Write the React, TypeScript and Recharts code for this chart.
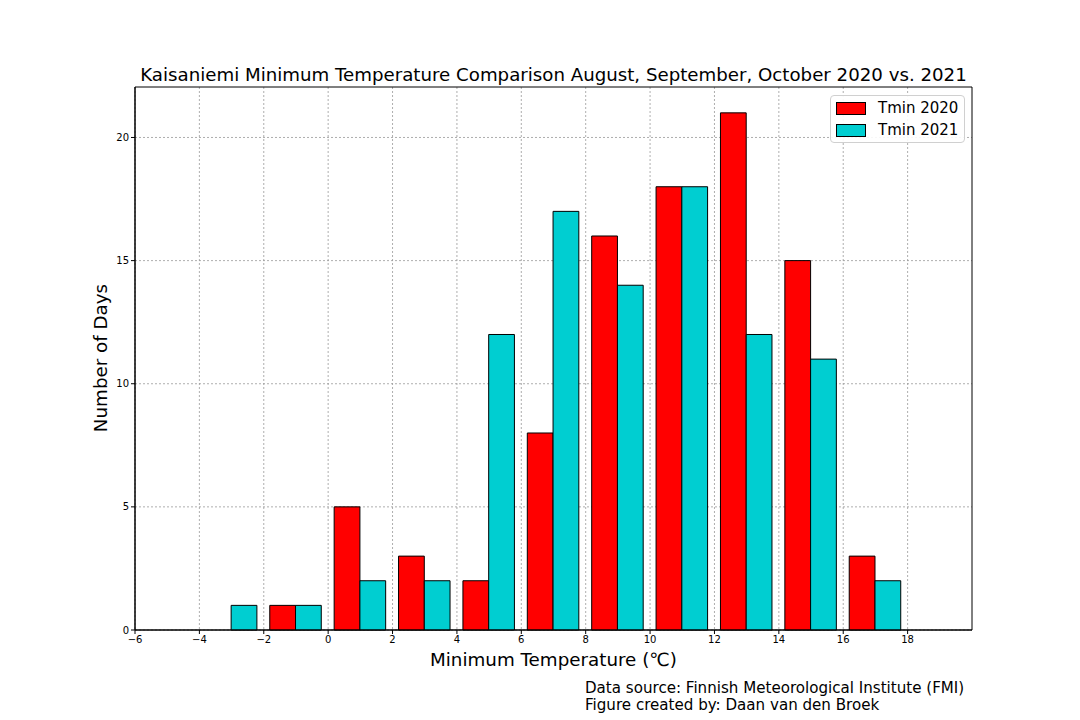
import { ComposedChart, Bar, XAxis, YAxis, CartesianGrid, ReferenceArea } from 'recharts'

// bin centres (2 °C bins) and counts
const binCenters = [-3, -1, 1, 3, 5, 7, 9, 11, 13, 15, 17]
const tmin2020 = [0, 1, 5, 3, 2, 8, 16, 18, 21, 15, 3]
const tmin2021 = [1, 1, 2, 2, 12, 17, 14, 18, 12, 11, 2]
const xTicks = [-6, -4, -2, 0, 2, 4, 6, 8, 10, 12, 14, 16, 18]
const yTicks = [0, 5, 10, 15, 20]

const RED = '#ff0000'
const CYAN = '#00ced1'
const FONT = '"DejaVu Sans", sans-serif'

const W = 1080
const H = 720
const PLOT_LEFT = 135
const PLOT_RIGHT = 972
const PLOT_TOP = 87
const X_MIN = -6
const X_MAX = 20
const Y_MAX = 22.05
const BAR_W = (0.8 * (PLOT_RIGHT - PLOT_LEFT)) / (X_MAX - X_MIN)

const data = binCenters.map((x, i) => ({ x, t2020: tmin2020[i], t2021: tmin2021[i] }))

function LegendBox() {
  const items = [
    { label: 'Tmin 2020', color: RED },
    { label: 'Tmin 2021', color: CYAN },
  ]
  return (
    <div
      style={{
        position: 'absolute',
        left: 830,
        top: 95,
        width: 135,
        height: 48,
        boxSizing: 'border-box',
        border: '1px solid #d0d0d0',
        borderRadius: 4,
        background: 'rgba(255,255,255,0.9)',
        padding: '1px 0 0 5px',
        fontFamily: FONT,
        fontSize: 15,
        whiteSpace: 'nowrap',
      }}
    >
      {items.map((it) => (
        <div key={it.label} style={{ display: 'flex', alignItems: 'center', height: 22 }}>
          <div style={{ width: 28, height: 11, background: it.color, border: '1px solid #000', marginRight: 12 }} />
          <span>{it.label}</span>
        </div>
      ))}
    </div>
  )
}

export default function App() {
  return (
    <div style={{ position: 'absolute', left: 0, top: 0, width: W, height: H, background: '#fff', fontFamily: FONT }}>
      <ComposedChart
        width={W}
        height={H}
        data={data}
        barGap={0}
        margin={{ top: PLOT_TOP, right: W - PLOT_RIGHT, left: 0, bottom: 50 }}
      >
        <CartesianGrid stroke="#999" strokeDasharray="2 2" strokeWidth={0.8} horizontalValues={yTicks} verticalValues={xTicks} />
        <XAxis
          dataKey="x"
          type="number"
          domain={[X_MIN, X_MAX]}
          ticks={xTicks}
          interval={0}
          height={40}
          tick={{ fontSize: 10, fill: '#000', fontFamily: FONT }}
          tickLine={{ stroke: '#000' }}
          tickSize={4}
          axisLine={{ stroke: '#000' }}
          tickFormatter={(v: number) => (v < 0 ? '\u2212' + Math.abs(v) : String(v))}
        />
        <YAxis
          type="number"
          domain={[0, Y_MAX]}
          ticks={yTicks}
          width={PLOT_LEFT}
          tick={{ fontSize: 10, fill: '#000', fontFamily: FONT }}
          tickLine={{ stroke: '#000' }}
          tickSize={4}
          axisLine={{ stroke: '#000' }}
        />
        <Bar dataKey="t2020" name="Tmin 2020" fill={RED} stroke="#000" strokeWidth={1} barSize={BAR_W} isAnimationActive={false} />
        <Bar dataKey="t2021" name="Tmin 2021" fill={CYAN} stroke="#000" strokeWidth={1} barSize={BAR_W} isAnimationActive={false} />
        {/* plot frame */}
        <ReferenceArea x1={X_MIN} x2={X_MAX} y1={0} y2={Y_MAX} fill="none" stroke="#000" strokeWidth={1} ifOverflow="visible" />
        <text x={(PLOT_LEFT + PLOT_RIGHT) / 2} y={81} textAnchor="middle" fontSize={18.2} fontFamily={FONT} fill="#000">
          Kaisaniemi Minimum Temperature Comparison August, September, October 2020 vs. 2021
        </text>
        <text x={(PLOT_LEFT + PLOT_RIGHT) / 2} y={666} textAnchor="middle" fontSize={18.3} fontFamily={FONT} fill="#000">
          Minimum Temperature (℃)
        </text>
        <text
          x={107}
          y={358}
          textAnchor="middle"
          fontSize={18.3}
          fontFamily={FONT}
          fill="#000"
          transform="rotate(-90 107 358)"
        >
          Number of Days
        </text>
        <text x={585} y={693} fontSize={15.1} fontFamily={FONT} fill="#000">
          Data source: Finnish Meteorological Institute (FMI)
        </text>
        <text x={585} y={710} fontSize={15.1} fontFamily={FONT} fill="#000">
          Figure created by: Daan van den Broek
        </text>
      </ComposedChart>
      <LegendBox />
    </div>
  )
}
